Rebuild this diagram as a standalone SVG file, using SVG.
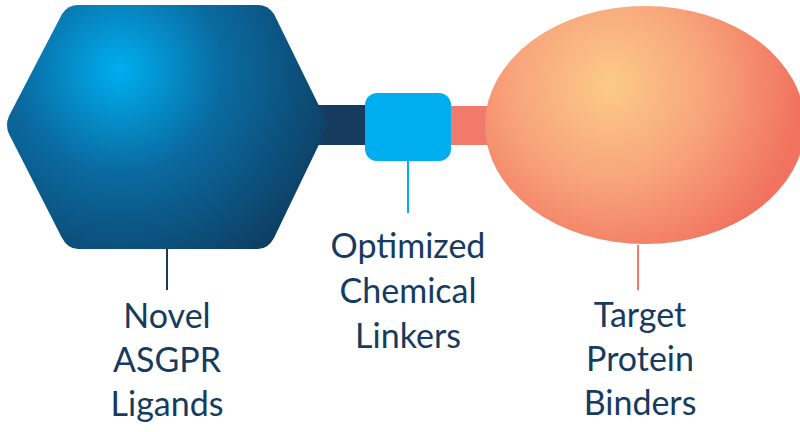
<svg xmlns="http://www.w3.org/2000/svg" width="800" height="432" viewBox="0 0 800 432">
<defs>
<radialGradient id="gb" cx="120" cy="70" r="230" gradientUnits="userSpaceOnUse">
<stop offset="0" stop-color="#00aeef"/><stop offset="0.45" stop-color="#0a6aa0"/><stop offset="1" stop-color="#0e3d62"/>
</radialGradient>
<radialGradient id="go" cx="610" cy="85" r="190" gradientUnits="userSpaceOnUse">
<stop offset="0" stop-color="#fcca88"/><stop offset="0.5" stop-color="#f8a57c"/><stop offset="1" stop-color="#f1735f"/>
</radialGradient>
<style>
text{font-family:"Lato","Liberation Sans",sans-serif;font-size:34px;fill:#173b5e;text-anchor:middle}
line{stroke-width:2}
</style>
</defs>
<g id="connectors">
<rect x="310" y="105" width="70" height="40" fill="#173b5e"/>
<rect x="440" y="106" width="60" height="39" fill="#f27a6b"/>
<line x1="167" y1="248" x2="167" y2="290" stroke="#173b5e"/>
<line x1="408" y1="158" x2="408" y2="213" stroke="#00aeef"/>
<line x1="638" y1="245" x2="638" y2="290" stroke="#f27a6b"/>
</g>
<g id="ligand">
<path d="M78,5 L258,5 Q268,5 274,14 L324,116 Q328,125 324,134 L274,238 Q268,249 258,249 L78,249 Q68,249 62,238 L9,134 Q5,125 9,116 L62,14 Q68,5 78,5 Z" fill="url(#gb)"/>
<text x="167" y="328">Novel</text><text x="167" y="372">ASGPR</text><text x="167" y="416">Ligands</text>
</g>
<g id="linker">
<rect x="365" y="93" width="86" height="68" rx="12" fill="#00aeef"/>
<text x="408" y="258">Optimized</text><text x="408" y="303">Chemical</text><text x="408" y="348">Linkers</text>
</g>
<g id="binder">
<ellipse cx="645" cy="125" rx="160" ry="119" fill="url(#go)"/>
<text x="640" y="327">Target</text><text x="640" y="371">Protein</text><text x="640" y="415">Binders</text>
</g>
</svg>
